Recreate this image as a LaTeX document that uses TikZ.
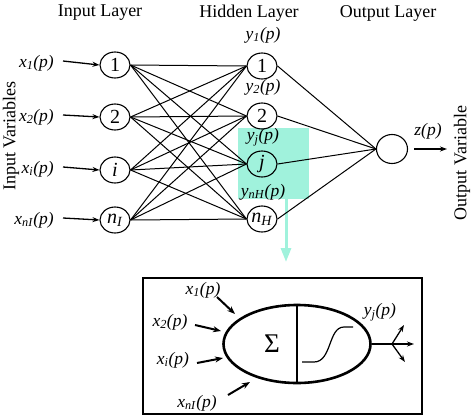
\documentclass[tikz,border=0pt]{standalone}
\usepackage{fontspec}
\setmainfont{Liberation Serif}
\usetikzlibrary{positioning}
\usetikzlibrary{shapes.geometric}
\usetikzlibrary{arrows.meta}
\definecolor{aqua}{RGB}{160,242,220}
\newcommand{\sig}[2]{\textit{#1}\textsubscript{\textit{#2}}\textit{(p)}}

\begin{document}
\begin{tikzpicture}[x=1pt,y=-1pt,
  neuron/.style={draw,ellipse,line width=1.1pt,minimum width=30pt,minimum height=26pt,inner sep=0pt,font=\fontsize{20}{20}\selectfont},
  lab/.style={font=\fontsize{17.5}{17.5}\selectfont,inner sep=1pt},
  title/.style={font=\fontsize{18}{18}\selectfont},
  link/.style={line width=1pt},
  feed/.style={line width=1.3pt,-{Stealth[length=7pt,width=5pt]}},
  heavy/.style={line width=2pt,-{Stealth[length=8pt,width=6pt]}}]
\useasboundingbox (0,0) rectangle (474,418);

% highlighted hidden neuron
\node[fill=aqua,minimum width=71pt,minimum height=71pt,inner sep=0pt] (focus) at (273.5,163.5) {};
\coordinate (zoomtip) at (286,262);
\draw[aqua,line width=3pt,-{Triangle[length=14pt,width=10pt]}] ([xshift=12.5pt]focus.south) -- (zoomtip);

% titles
\node[title] (tin) at (100,13) {Input Layer};
\node[title] (thid) at (249,13) {Hidden Layer};
\node[title] (tout) at (388,13) {Output Layer};
\node[title,rotate=90] (vin) at (11,136) {Input Variables};
\node[title,rotate=90] (vout) at (462,163) {Output Variable};

% input layer
\node[neuron] (in1) at (115,65) {1};
\node[neuron] (in2) at (115,117) {2};
\node[neuron] (ini) at (115,170) {\textit{i}};
\node[neuron] (inn) at (115,220) {\textit{n}\textsubscript{\textit{I}}};

% hidden layer
\node[neuron] (hid1) at (262,66) {1};
\node[neuron] (hid2) at (262,116) {2};
\node[neuron] (hidj) at (262,164) {\textit{j}};
\node[neuron] (hidn) at (262,219) {\textit{n}\textsubscript{\textit{H}}};

% output layer
\node[neuron,minimum width=31pt,minimum height=29pt] (out) at (392,149) {};

\foreach \a in {1,2,i,n}
  \foreach \b in {1,2,j,n}
    \draw[link] (in\a.east) -- (hid\b.west);
\foreach \b in {1,2,j,n}
  \draw[link] (hid\b.east) -- (out.west);

% input signals
\node[lab,anchor=east] (x1) at (55,63) {\sig{x}{1}};
\node[lab,anchor=east] (x2) at (55,117) {\sig{x}{2}};
\node[lab,anchor=east] (xi) at (55,169) {\sig{x}{i}};
\node[lab,anchor=east] (xn) at (55,220) {\sig{x}{nI}};
\foreach \a/\l in {1/1,2/2,i/i,n/n}
  \draw[feed] (x\l.east) ++(8pt,2pt) coordinate (s\a) -- (in\a.west);

% hidden signals
\node[lab] (y1) at (263,35) {\sig{y}{1}};
\node[lab] (y2) at (263,87) {\sig{y}{2}};
\node[lab] (yj) at (263,137) {\sig{y}{j}};
\node[lab] (yn) at (263,192) {\sig{y}{nH}};

% output signal
\node[lab] (z) at (428,131) {\textit{z(p)}};
\coordinate (zend) at (447,149);
\draw[feed,shorten <=6pt] (out.east) -- (zend);

% close-up of neuron j
\draw[line width=1.6pt] (143,278) rectangle (422,414);
\node[draw,ellipse,line width=2.6pt,minimum width=147pt,minimum height=78pt,inner sep=0pt] (cell) at (297,344) {};
\draw[line width=2.6pt] (cell.north) -- (cell.south);
\node[font=\fontsize{27}{27}\selectfont] (sum) at (272,344) {Σ};
\draw[line width=1.2pt] (302,362) -- (314,362) .. controls (332,362) and (328,327) .. (344,327) -- (353,327);

\node[lab] (cx1) at (203,290) {\sig{x}{1}};
\node[lab] (cx2) at (170,322) {\sig{x}{2}};
\node[lab] (cxi) at (173,360) {\sig{x}{i}};
\node[lab] (cxn) at (197,403) {\sig{x}{nI}};
\coordinate (e1) at (235,314);
\coordinate (e2) at (221,331);
\coordinate (ei) at (223,358);
\coordinate (en) at (250,382);
\draw[heavy] (217,297) -- (e1);
\draw[heavy] (195,325) -- (e2);
\draw[heavy] (197,363) -- (ei);
\draw[heavy] (228,395) -- (en);

\node[lab] (cy) at (380,312) {\sig{y}{j}};
\coordinate (fork) at (392,344);
\coordinate (o1) at (404,325);
\coordinate (o2) at (414,344);
\coordinate (o3) at (405,362);
\draw[line width=1.5pt] (cell.east) -- (fork);
\foreach \o in {o1,o2,o3}
  \draw[feed] (fork) -- (\o);

\end{tikzpicture}
\end{document}
